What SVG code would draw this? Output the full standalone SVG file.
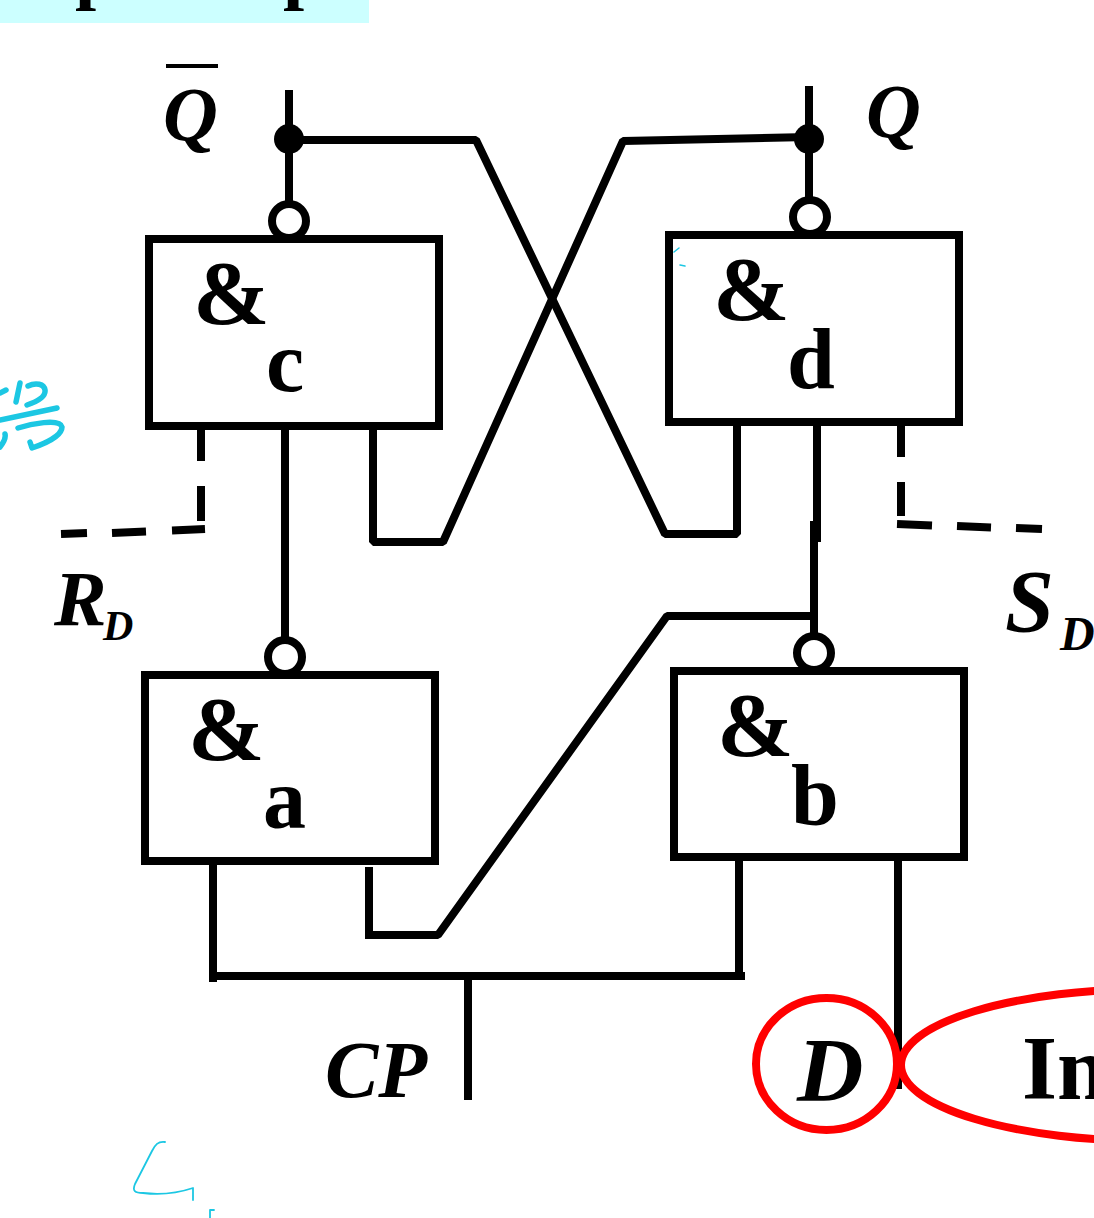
<svg xmlns="http://www.w3.org/2000/svg" width="1094" height="1218" viewBox="0 0 1094 1218">
<style>
text{font-family:"Liberation Serif","Times New Roman",serif;font-weight:bold;fill:#000}
.i{font-style:italic}
.amp{font-size:92px}
.let{font-size:86px}
.b{fill:#fff;stroke:#000;stroke-width:8}
.w{fill:none;stroke:#000;stroke-width:8;stroke-linejoin:bevel}
.inv{fill:#fff;stroke:#000;stroke-width:8}
.r{fill:none;stroke:#f00;stroke-width:8}
.h{fill:none;stroke:#1cc7e3;stroke-linecap:round;stroke-linejoin:round}
</style>
<rect x="0" y="0" width="369" height="23" fill="#ccffff"/>
<text x="75" y="-5" font-size="76">p</text>
<text x="283" y="-5" font-size="76">p</text>
<g id="connectors">
<path class="w" d="M289 90V205M289 140H476L665 534H737V420"/>
<path class="w" d="M809 86V200M809 137L623 141L443 542H373V428"/>
<path class="w" d="M285 428V640"/>
<path class="w" d="M817 424V542M814 521V636M814 616H667L438 935H365M369 867V935"/>
<path class="w" d="M213 862V982M209 976H745M739 858V976M468 976V1100"/>
<path class="w" d="M898 858V1089"/>
<path class="w" d="M201 428V461M201 486V521M205 529L172 530.500M146 531.500L112 533M87 533L61 534"/>
<path class="w" d="M901 424V457M901 482V516M897 524L932 525.500M957 526L991 527.500M1016 528L1042 529"/>
<circle cx="289" cy="139" r="15" fill="#000"/>
<circle cx="809" cy="139" r="15" fill="#000"/>
</g>
<g id="node-c">
<rect class="b" x="149" y="239" width="290" height="187"/>
<circle class="inv" cx="289" cy="221" r="17"/>
<text class="amp" x="193" y="324">&amp;</text>
<text class="let" x="266" y="391">c</text>
</g>
<g id="node-d">
<rect class="b" x="669" y="235" width="290" height="187"/>
<circle class="inv" cx="810" cy="217" r="17"/>
<text class="amp" x="713" y="320">&amp;</text>
<text class="let" x="787" y="388">d</text>
</g>
<g id="node-a">
<rect class="b" x="145" y="675" width="290" height="186"/>
<circle class="inv" cx="285" cy="657" r="17"/>
<text class="amp" x="188" y="760">&amp;</text>
<text class="let" x="263" y="828">a</text>
</g>
<g id="node-b">
<rect class="b" x="674" y="671" width="290" height="186"/>
<circle class="inv" cx="814" cy="653" r="17"/>
<text class="amp" x="717" y="756">&amp;</text>
<text class="let" x="791" y="824">b</text>
</g>
<g id="labels">
<rect x="166" y="64" width="52" height="4" fill="#000"/>
<text class="i" x="163" y="140" font-size="76">Q</text>
<text class="i" x="866" y="137" font-size="76">Q</text>
<text class="i" x="54" y="625" font-size="79">R</text>
<text class="i" x="103" y="640" font-size="42">D</text>
<text class="i" x="1005" y="631" font-size="88">S</text>
<text class="i" x="1060" y="650" font-size="48">D</text>
<text class="i" x="325" y="1097" font-size="80">CP</text>
<text class="i" x="797" y="1101" font-size="92">D</text>
<text x="1022" y="1099" font-size="90">In</text>
</g>
<g id="highlights">
<ellipse class="r" cx="826.500" cy="1064" rx="70.500" ry="66"/>
<ellipse class="r" cx="1151" cy="1065" rx="250" ry="76"/>
</g>
<g id="ink">
<path class="h" stroke-width="5.500" d="M20 383L16 402M28 386C36 382 44 384 45 390C46 397 36 402 27 405M0 420L57 408M18 428C30 424 60 418 62 427C62 436 44 444 32 448L30 442M0 393L6 390M0 447C4 442 6 438 5 434"/>
<path class="h" stroke-width="1.800" d="M165 1142C158 1141 155 1145 152 1151L135 1184C132 1191 135 1193 143 1193C160 1195 178 1193 193 1188V1200M210 1218V1210H214"/>
<path class="h" stroke-width="1.500" d="M674 252L679 248M680 265L685 266"/>
</g>
</svg>
